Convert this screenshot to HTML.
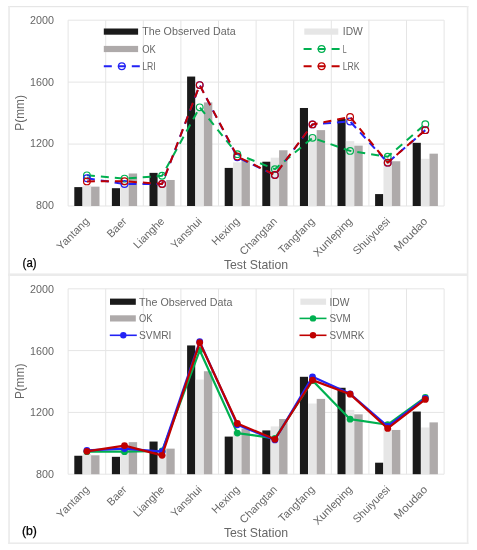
<!DOCTYPE html>
<html><head><meta charset="utf-8"><title>Figure</title>
<style>
html,body{margin:0;padding:0;background:#fff;}
svg{display:block;font-family:"Liberation Sans",sans-serif;}
</style></head><body>
<svg width="477" height="550" viewBox="0 0 477 550">
<rect x="0" y="0" width="477" height="550" fill="#ffffff"/>
<rect x="8.2" y="6" width="460.2" height="1.2" fill="#e6e6e6"/>
<rect x="8.2" y="6" width="1.7" height="538" fill="#ebebeb"/>
<rect x="466.8" y="6" width="1.6" height="538" fill="#ebebeb"/>
<rect x="8.2" y="542.4" width="460.2" height="1.6" fill="#ebebeb"/>
<rect x="8" y="273.4" width="460" height="2.6" fill="#ebebeb"/>
<line x1="68.1" y1="20.20" x2="444.1" y2="20.20" stroke="#e5e5e5" stroke-width="1"/>
<line x1="68.1" y1="82.13" x2="444.1" y2="82.13" stroke="#e5e5e5" stroke-width="1"/>
<line x1="68.1" y1="144.07" x2="444.1" y2="144.07" stroke="#e5e5e5" stroke-width="1"/>
<line x1="68.1" y1="206.00" x2="444.1" y2="206.00" stroke="#e5e5e5" stroke-width="1"/>
<line x1="68.10" y1="20.2" x2="68.10" y2="206.0" stroke="#e5e5e5" stroke-width="1"/>
<line x1="105.70" y1="20.2" x2="105.70" y2="206.0" stroke="#e5e5e5" stroke-width="1"/>
<line x1="143.30" y1="20.2" x2="143.30" y2="206.0" stroke="#e5e5e5" stroke-width="1"/>
<line x1="180.90" y1="20.2" x2="180.90" y2="206.0" stroke="#e5e5e5" stroke-width="1"/>
<line x1="218.50" y1="20.2" x2="218.50" y2="206.0" stroke="#e5e5e5" stroke-width="1"/>
<line x1="256.10" y1="20.2" x2="256.10" y2="206.0" stroke="#e5e5e5" stroke-width="1"/>
<line x1="293.70" y1="20.2" x2="293.70" y2="206.0" stroke="#e5e5e5" stroke-width="1"/>
<line x1="331.30" y1="20.2" x2="331.30" y2="206.0" stroke="#e5e5e5" stroke-width="1"/>
<line x1="368.90" y1="20.2" x2="368.90" y2="206.0" stroke="#e5e5e5" stroke-width="1"/>
<line x1="406.50" y1="20.2" x2="406.50" y2="206.0" stroke="#e5e5e5" stroke-width="1"/>
<line x1="444.10" y1="20.2" x2="444.10" y2="206.0" stroke="#e5e5e5" stroke-width="1"/>
<rect x="74.30" y="187.11" width="8.10" height="18.89" fill="#1a1a1a"/>
<rect x="82.70" y="185.41" width="8.40" height="20.59" fill="#e6e6e6"/>
<rect x="91.10" y="186.65" width="8.40" height="19.35" fill="#aeaaaa"/>
<rect x="111.90" y="188.19" width="8.10" height="17.81" fill="#1a1a1a"/>
<rect x="120.30" y="181.23" width="8.40" height="24.77" fill="#e6e6e6"/>
<rect x="128.70" y="173.49" width="8.40" height="32.51" fill="#aeaaaa"/>
<rect x="149.50" y="172.87" width="8.10" height="33.13" fill="#1a1a1a"/>
<rect x="157.90" y="185.87" width="8.40" height="20.13" fill="#e6e6e6"/>
<rect x="166.30" y="179.99" width="8.40" height="26.01" fill="#aeaaaa"/>
<rect x="187.10" y="76.56" width="8.10" height="129.44" fill="#1a1a1a"/>
<rect x="195.50" y="110.78" width="8.40" height="95.22" fill="#e6e6e6"/>
<rect x="203.90" y="102.42" width="8.40" height="103.58" fill="#aeaaaa"/>
<rect x="224.70" y="167.91" width="8.10" height="38.09" fill="#1a1a1a"/>
<rect x="233.10" y="162.34" width="8.40" height="43.66" fill="#e6e6e6"/>
<rect x="241.50" y="159.86" width="8.40" height="46.14" fill="#aeaaaa"/>
<rect x="262.30" y="161.72" width="8.10" height="44.28" fill="#1a1a1a"/>
<rect x="270.70" y="157.69" width="8.40" height="48.31" fill="#e6e6e6"/>
<rect x="279.10" y="150.26" width="8.40" height="55.74" fill="#aeaaaa"/>
<rect x="299.90" y="107.99" width="8.10" height="98.01" fill="#1a1a1a"/>
<rect x="308.30" y="134.78" width="8.40" height="71.22" fill="#e6e6e6"/>
<rect x="316.70" y="130.13" width="8.40" height="75.87" fill="#aeaaaa"/>
<rect x="337.50" y="118.98" width="8.10" height="87.02" fill="#1a1a1a"/>
<rect x="345.90" y="141.12" width="8.40" height="64.88" fill="#e6e6e6"/>
<rect x="354.30" y="145.62" width="8.40" height="60.38" fill="#aeaaaa"/>
<rect x="375.10" y="194.08" width="8.10" height="11.92" fill="#1a1a1a"/>
<rect x="383.50" y="159.55" width="8.40" height="46.45" fill="#e6e6e6"/>
<rect x="391.90" y="161.25" width="8.40" height="44.75" fill="#aeaaaa"/>
<rect x="412.70" y="142.83" width="8.10" height="63.17" fill="#1a1a1a"/>
<rect x="421.10" y="158.78" width="8.40" height="47.22" fill="#e6e6e6"/>
<rect x="429.50" y="153.67" width="8.40" height="52.33" fill="#aeaaaa"/>
<polyline points="86.90,175.34 124.50,178.59 162.10,175.81 199.70,107.37 237.30,154.13 274.90,169.15 312.50,137.87 350.10,150.88 387.70,156.76 425.30,124.25" fill="none" stroke="#00b050" stroke-width="2" stroke-linejoin="round" stroke-dasharray="8 6"/>
<circle cx="86.90" cy="175.34" r="3.35" fill="none" stroke="#00b050" stroke-width="1.2"/>
<circle cx="124.50" cy="178.59" r="3.35" fill="none" stroke="#00b050" stroke-width="1.2"/>
<circle cx="162.10" cy="175.81" r="3.35" fill="none" stroke="#00b050" stroke-width="1.2"/>
<circle cx="199.70" cy="107.37" r="3.35" fill="none" stroke="#00b050" stroke-width="1.2"/>
<circle cx="237.30" cy="154.13" r="3.35" fill="none" stroke="#00b050" stroke-width="1.2"/>
<circle cx="274.90" cy="169.15" r="3.35" fill="none" stroke="#00b050" stroke-width="1.2"/>
<circle cx="312.50" cy="137.87" r="3.35" fill="none" stroke="#00b050" stroke-width="1.2"/>
<circle cx="350.10" cy="150.88" r="3.35" fill="none" stroke="#00b050" stroke-width="1.2"/>
<circle cx="387.70" cy="156.76" r="3.35" fill="none" stroke="#00b050" stroke-width="1.2"/>
<circle cx="425.30" cy="124.25" r="3.35" fill="none" stroke="#00b050" stroke-width="1.2"/>
<polyline points="86.90,178.28 124.50,184.01 162.10,184.01 199.70,85.08 237.30,157.23 274.90,175.03 312.50,124.40 350.10,121.46 387.70,162.65 425.30,130.13" fill="none" stroke="#2222f5" stroke-width="2" stroke-linejoin="round" stroke-dasharray="8 6"/>
<circle cx="86.90" cy="178.28" r="3.35" fill="none" stroke="#2222f5" stroke-width="1.2"/>
<circle cx="124.50" cy="184.01" r="3.35" fill="none" stroke="#2222f5" stroke-width="1.2"/>
<circle cx="162.10" cy="184.01" r="3.35" fill="none" stroke="#2222f5" stroke-width="1.2"/>
<circle cx="199.70" cy="85.08" r="3.35" fill="none" stroke="#2222f5" stroke-width="1.2"/>
<circle cx="237.30" cy="157.23" r="3.35" fill="none" stroke="#2222f5" stroke-width="1.2"/>
<circle cx="274.90" cy="175.03" r="3.35" fill="none" stroke="#2222f5" stroke-width="1.2"/>
<circle cx="312.50" cy="124.40" r="3.35" fill="none" stroke="#2222f5" stroke-width="1.2"/>
<circle cx="350.10" cy="121.46" r="3.35" fill="none" stroke="#2222f5" stroke-width="1.2"/>
<circle cx="387.70" cy="162.65" r="3.35" fill="none" stroke="#2222f5" stroke-width="1.2"/>
<circle cx="425.30" cy="130.13" r="3.35" fill="none" stroke="#2222f5" stroke-width="1.2"/>
<polyline points="86.90,181.38 124.50,181.23 162.10,184.01 199.70,85.08 237.30,156.45 274.90,175.03 312.50,124.40 350.10,116.97 387.70,162.65 425.30,130.13" fill="none" stroke="#c00000" stroke-width="2" stroke-linejoin="round" stroke-dasharray="8 6"/>
<circle cx="86.90" cy="181.38" r="3.35" fill="none" stroke="#c00000" stroke-width="1.2"/>
<circle cx="124.50" cy="181.23" r="3.35" fill="none" stroke="#c00000" stroke-width="1.2"/>
<circle cx="162.10" cy="184.01" r="3.35" fill="none" stroke="#c00000" stroke-width="1.2"/>
<circle cx="199.70" cy="85.08" r="3.35" fill="none" stroke="#c00000" stroke-width="1.2"/>
<circle cx="237.30" cy="156.45" r="3.35" fill="none" stroke="#c00000" stroke-width="1.2"/>
<circle cx="274.90" cy="175.03" r="3.35" fill="none" stroke="#c00000" stroke-width="1.2"/>
<circle cx="312.50" cy="124.40" r="3.35" fill="none" stroke="#c00000" stroke-width="1.2"/>
<circle cx="350.10" cy="116.97" r="3.35" fill="none" stroke="#c00000" stroke-width="1.2"/>
<circle cx="387.70" cy="162.65" r="3.35" fill="none" stroke="#c00000" stroke-width="1.2"/>
<circle cx="425.30" cy="130.13" r="3.35" fill="none" stroke="#c00000" stroke-width="1.2"/>
<text x="53.9" y="23.60" text-anchor="end" font-size="10.6" fill="#676767" textLength="23.9" lengthAdjust="spacingAndGlyphs">2000</text>
<text x="53.9" y="85.53" text-anchor="end" font-size="10.6" fill="#676767" textLength="23.9" lengthAdjust="spacingAndGlyphs">1600</text>
<text x="53.9" y="147.47" text-anchor="end" font-size="10.6" fill="#676767" textLength="23.9" lengthAdjust="spacingAndGlyphs">1200</text>
<text x="53.9" y="209.40" text-anchor="end" font-size="10.6" fill="#676767" textLength="17.9" lengthAdjust="spacingAndGlyphs">800</text>
<text transform="translate(89.80,222.00) rotate(-45)" text-anchor="end" font-size="10.9" fill="#676767" textLength="40.6" lengthAdjust="spacingAndGlyphs">Yantang</text>
<text transform="translate(127.40,222.00) rotate(-45)" text-anchor="end" font-size="10.9" fill="#676767" textLength="23.0" lengthAdjust="spacingAndGlyphs">Baer</text>
<text transform="translate(165.00,222.00) rotate(-45)" text-anchor="end" font-size="10.9" fill="#676767" textLength="38.7" lengthAdjust="spacingAndGlyphs">Lianghe</text>
<text transform="translate(202.60,222.00) rotate(-45)" text-anchor="end" font-size="10.9" fill="#676767" textLength="38.8" lengthAdjust="spacingAndGlyphs">Yanshui</text>
<text transform="translate(240.20,222.00) rotate(-45)" text-anchor="end" font-size="10.9" fill="#676767" textLength="34.1" lengthAdjust="spacingAndGlyphs">Hexing</text>
<text transform="translate(277.80,222.00) rotate(-45)" text-anchor="end" font-size="10.9" fill="#676767" textLength="47.7" lengthAdjust="spacingAndGlyphs">Changtan</text>
<text transform="translate(315.40,222.00) rotate(-45)" text-anchor="end" font-size="10.9" fill="#676767" textLength="46.0" lengthAdjust="spacingAndGlyphs">Tangfang</text>
<text transform="translate(353.00,222.00) rotate(-45)" text-anchor="end" font-size="10.9" fill="#676767" textLength="49.8" lengthAdjust="spacingAndGlyphs">Xunleping</text>
<text transform="translate(390.60,222.00) rotate(-45)" text-anchor="end" font-size="10.9" fill="#676767" textLength="47.1" lengthAdjust="spacingAndGlyphs">Shuiyuesi</text>
<text transform="translate(428.20,222.00) rotate(-45)" text-anchor="end" font-size="10.9" fill="#676767" textLength="42.3" lengthAdjust="spacingAndGlyphs">Moudao</text>
<text x="223.9" y="269.10" font-size="11.9" fill="#676767" textLength="64.2" lengthAdjust="spacingAndGlyphs">Test Station</text>
<text transform="translate(23.7,130.70) rotate(-90)" font-size="11.9" fill="#676767" textLength="35.6" lengthAdjust="spacingAndGlyphs">P(mm)</text>
<text x="22.6" y="266.5" font-size="12" fill="#000" stroke="#000" stroke-width="0.25" textLength="13.9" lengthAdjust="spacingAndGlyphs">(a)</text>
<rect x="103.8" y="28.5" width="34.3" height="6.2" fill="#1a1a1a"/>
<text x="142.2" y="35.4" font-size="10.6" fill="#676767" textLength="93.4" lengthAdjust="spacingAndGlyphs">The Observed Data</text>
<rect x="103.8" y="45.9" width="34.3" height="6.2" fill="#aeaaaa"/>
<text x="142.2" y="52.8" font-size="10.6" fill="#676767" textLength="13.5" lengthAdjust="spacingAndGlyphs">OK</text>
<rect x="304.3" y="28.5" width="34" height="6.2" fill="#e6e6e6"/>
<text x="342.8" y="35.4" font-size="10.6" fill="#676767" textLength="20" lengthAdjust="spacingAndGlyphs">IDW</text>
<line x1="103.8" y1="66.3" x2="139.8" y2="66.3" stroke="#2222f5" stroke-width="2" stroke-dasharray="8 6"/>
<circle cx="121.8" cy="66.3" r="3.35" fill="none" stroke="#2222f5" stroke-width="1.2"/>
<text x="142.2" y="70.1" font-size="10.6" fill="#676767" textLength="13.5" lengthAdjust="spacingAndGlyphs">LRI</text>
<line x1="303.6" y1="49.0" x2="339.6" y2="49.0" stroke="#00b050" stroke-width="2" stroke-dasharray="8 6"/>
<circle cx="321.6" cy="49.0" r="3.35" fill="none" stroke="#00b050" stroke-width="1.2"/>
<text x="342.8" y="52.8" font-size="10.6" fill="#676767" textLength="3.9" lengthAdjust="spacingAndGlyphs">L</text>
<line x1="303.6" y1="66.3" x2="339.6" y2="66.3" stroke="#c00000" stroke-width="2" stroke-dasharray="8 6"/>
<circle cx="321.6" cy="66.3" r="3.35" fill="none" stroke="#c00000" stroke-width="1.2"/>
<text x="342.8" y="70.1" font-size="10.6" fill="#676767" textLength="16.8" lengthAdjust="spacingAndGlyphs">LRK</text>
<line x1="68.1" y1="288.80" x2="444.1" y2="288.80" stroke="#e5e5e5" stroke-width="1"/>
<line x1="68.1" y1="350.60" x2="444.1" y2="350.60" stroke="#e5e5e5" stroke-width="1"/>
<line x1="68.1" y1="412.40" x2="444.1" y2="412.40" stroke="#e5e5e5" stroke-width="1"/>
<line x1="68.1" y1="474.20" x2="444.1" y2="474.20" stroke="#e5e5e5" stroke-width="1"/>
<line x1="68.10" y1="288.8" x2="68.10" y2="474.2" stroke="#e5e5e5" stroke-width="1"/>
<line x1="105.70" y1="288.8" x2="105.70" y2="474.2" stroke="#e5e5e5" stroke-width="1"/>
<line x1="143.30" y1="288.8" x2="143.30" y2="474.2" stroke="#e5e5e5" stroke-width="1"/>
<line x1="180.90" y1="288.8" x2="180.90" y2="474.2" stroke="#e5e5e5" stroke-width="1"/>
<line x1="218.50" y1="288.8" x2="218.50" y2="474.2" stroke="#e5e5e5" stroke-width="1"/>
<line x1="256.10" y1="288.8" x2="256.10" y2="474.2" stroke="#e5e5e5" stroke-width="1"/>
<line x1="293.70" y1="288.8" x2="293.70" y2="474.2" stroke="#e5e5e5" stroke-width="1"/>
<line x1="331.30" y1="288.8" x2="331.30" y2="474.2" stroke="#e5e5e5" stroke-width="1"/>
<line x1="368.90" y1="288.8" x2="368.90" y2="474.2" stroke="#e5e5e5" stroke-width="1"/>
<line x1="406.50" y1="288.8" x2="406.50" y2="474.2" stroke="#e5e5e5" stroke-width="1"/>
<line x1="444.10" y1="288.8" x2="444.10" y2="474.2" stroke="#e5e5e5" stroke-width="1"/>
<rect x="74.30" y="455.75" width="8.10" height="18.45" fill="#1a1a1a"/>
<rect x="82.70" y="454.05" width="8.40" height="20.15" fill="#e6e6e6"/>
<rect x="91.10" y="455.29" width="8.40" height="18.91" fill="#aeaaaa"/>
<rect x="111.90" y="456.83" width="8.10" height="17.37" fill="#1a1a1a"/>
<rect x="120.30" y="449.88" width="8.40" height="24.32" fill="#e6e6e6"/>
<rect x="128.70" y="442.15" width="8.40" height="32.05" fill="#aeaaaa"/>
<rect x="149.50" y="441.54" width="8.10" height="32.66" fill="#1a1a1a"/>
<rect x="157.90" y="454.51" width="8.40" height="19.69" fill="#e6e6e6"/>
<rect x="166.30" y="448.64" width="8.40" height="25.56" fill="#aeaaaa"/>
<rect x="187.10" y="345.44" width="8.10" height="128.76" fill="#1a1a1a"/>
<rect x="195.50" y="379.58" width="8.40" height="94.62" fill="#e6e6e6"/>
<rect x="203.90" y="371.24" width="8.40" height="102.96" fill="#aeaaaa"/>
<rect x="224.70" y="436.59" width="8.10" height="37.61" fill="#1a1a1a"/>
<rect x="233.10" y="431.03" width="8.40" height="43.17" fill="#e6e6e6"/>
<rect x="241.50" y="428.56" width="8.40" height="45.64" fill="#aeaaaa"/>
<rect x="262.30" y="430.41" width="8.10" height="43.79" fill="#1a1a1a"/>
<rect x="270.70" y="426.40" width="8.40" height="47.80" fill="#e6e6e6"/>
<rect x="279.10" y="418.98" width="8.40" height="55.22" fill="#aeaaaa"/>
<rect x="299.90" y="376.80" width="8.10" height="97.40" fill="#1a1a1a"/>
<rect x="308.30" y="403.53" width="8.40" height="70.67" fill="#e6e6e6"/>
<rect x="316.70" y="398.89" width="8.40" height="75.31" fill="#aeaaaa"/>
<rect x="337.50" y="387.77" width="8.10" height="86.43" fill="#1a1a1a"/>
<rect x="345.90" y="409.86" width="8.40" height="64.34" fill="#e6e6e6"/>
<rect x="354.30" y="414.34" width="8.40" height="59.86" fill="#aeaaaa"/>
<rect x="375.10" y="462.70" width="8.10" height="11.50" fill="#1a1a1a"/>
<rect x="383.50" y="428.25" width="8.40" height="45.95" fill="#e6e6e6"/>
<rect x="391.90" y="429.95" width="8.40" height="44.25" fill="#aeaaaa"/>
<rect x="412.70" y="411.56" width="8.10" height="62.64" fill="#1a1a1a"/>
<rect x="421.10" y="427.48" width="8.40" height="46.72" fill="#e6e6e6"/>
<rect x="429.50" y="422.38" width="8.40" height="51.82" fill="#aeaaaa"/>
<polyline points="86.90,451.64 124.50,451.64 162.10,451.02 199.70,350.29 237.30,433.10 274.90,438.36 312.50,380.57 350.10,419.20 387.70,424.76 425.30,397.41" fill="none" stroke="#00b050" stroke-width="2.2" stroke-linejoin="round"/>
<circle cx="86.90" cy="451.64" r="3.4" fill="#00b050"/>
<circle cx="124.50" cy="451.64" r="3.4" fill="#00b050"/>
<circle cx="162.10" cy="451.02" r="3.4" fill="#00b050"/>
<circle cx="199.70" cy="350.29" r="3.4" fill="#00b050"/>
<circle cx="237.30" cy="433.10" r="3.4" fill="#00b050"/>
<circle cx="274.90" cy="438.36" r="3.4" fill="#00b050"/>
<circle cx="312.50" cy="380.57" r="3.4" fill="#00b050"/>
<circle cx="350.10" cy="419.20" r="3.4" fill="#00b050"/>
<circle cx="387.70" cy="424.76" r="3.4" fill="#00b050"/>
<circle cx="425.30" cy="397.41" r="3.4" fill="#00b050"/>
<polyline points="86.90,450.41 124.50,448.55 162.10,451.64 199.70,341.64 237.30,424.76 274.90,439.90 312.50,376.87 350.10,393.86 387.70,426.31 425.30,398.50" fill="none" stroke="#2222f5" stroke-width="2.2" stroke-linejoin="round"/>
<circle cx="86.90" cy="450.41" r="3.4" fill="#2222f5"/>
<circle cx="124.50" cy="448.55" r="3.4" fill="#2222f5"/>
<circle cx="162.10" cy="451.64" r="3.4" fill="#2222f5"/>
<circle cx="199.70" cy="341.64" r="3.4" fill="#2222f5"/>
<circle cx="237.30" cy="424.76" r="3.4" fill="#2222f5"/>
<circle cx="274.90" cy="439.90" r="3.4" fill="#2222f5"/>
<circle cx="312.50" cy="376.87" r="3.4" fill="#2222f5"/>
<circle cx="350.10" cy="393.86" r="3.4" fill="#2222f5"/>
<circle cx="387.70" cy="426.31" r="3.4" fill="#2222f5"/>
<circle cx="425.30" cy="398.50" r="3.4" fill="#2222f5"/>
<polyline points="86.90,451.33 124.50,445.62 162.10,455.35 199.70,342.57 237.30,423.52 274.90,439.28 312.50,380.11 350.10,394.17 387.70,428.47 425.30,399.42" fill="none" stroke="#c00000" stroke-width="2.2" stroke-linejoin="round"/>
<circle cx="86.90" cy="451.33" r="3.4" fill="#c00000"/>
<circle cx="124.50" cy="445.62" r="3.4" fill="#c00000"/>
<circle cx="162.10" cy="455.35" r="3.4" fill="#c00000"/>
<circle cx="199.70" cy="342.57" r="3.4" fill="#c00000"/>
<circle cx="237.30" cy="423.52" r="3.4" fill="#c00000"/>
<circle cx="274.90" cy="439.28" r="3.4" fill="#c00000"/>
<circle cx="312.50" cy="380.11" r="3.4" fill="#c00000"/>
<circle cx="350.10" cy="394.17" r="3.4" fill="#c00000"/>
<circle cx="387.70" cy="428.47" r="3.4" fill="#c00000"/>
<circle cx="425.30" cy="399.42" r="3.4" fill="#c00000"/>
<text x="53.9" y="292.80" text-anchor="end" font-size="10.6" fill="#676767" textLength="23.9" lengthAdjust="spacingAndGlyphs">2000</text>
<text x="53.9" y="354.60" text-anchor="end" font-size="10.6" fill="#676767" textLength="23.9" lengthAdjust="spacingAndGlyphs">1600</text>
<text x="53.9" y="416.40" text-anchor="end" font-size="10.6" fill="#676767" textLength="23.9" lengthAdjust="spacingAndGlyphs">1200</text>
<text x="53.9" y="478.20" text-anchor="end" font-size="10.6" fill="#676767" textLength="17.9" lengthAdjust="spacingAndGlyphs">800</text>
<text transform="translate(89.80,490.20) rotate(-45)" text-anchor="end" font-size="10.9" fill="#676767" textLength="40.6" lengthAdjust="spacingAndGlyphs">Yantang</text>
<text transform="translate(127.40,490.20) rotate(-45)" text-anchor="end" font-size="10.9" fill="#676767" textLength="23.0" lengthAdjust="spacingAndGlyphs">Baer</text>
<text transform="translate(165.00,490.20) rotate(-45)" text-anchor="end" font-size="10.9" fill="#676767" textLength="38.7" lengthAdjust="spacingAndGlyphs">Lianghe</text>
<text transform="translate(202.60,490.20) rotate(-45)" text-anchor="end" font-size="10.9" fill="#676767" textLength="38.8" lengthAdjust="spacingAndGlyphs">Yanshui</text>
<text transform="translate(240.20,490.20) rotate(-45)" text-anchor="end" font-size="10.9" fill="#676767" textLength="34.1" lengthAdjust="spacingAndGlyphs">Hexing</text>
<text transform="translate(277.80,490.20) rotate(-45)" text-anchor="end" font-size="10.9" fill="#676767" textLength="47.7" lengthAdjust="spacingAndGlyphs">Changtan</text>
<text transform="translate(315.40,490.20) rotate(-45)" text-anchor="end" font-size="10.9" fill="#676767" textLength="46.0" lengthAdjust="spacingAndGlyphs">Tangfang</text>
<text transform="translate(353.00,490.20) rotate(-45)" text-anchor="end" font-size="10.9" fill="#676767" textLength="49.8" lengthAdjust="spacingAndGlyphs">Xunleping</text>
<text transform="translate(390.60,490.20) rotate(-45)" text-anchor="end" font-size="10.9" fill="#676767" textLength="47.1" lengthAdjust="spacingAndGlyphs">Shuiyuesi</text>
<text transform="translate(428.20,490.20) rotate(-45)" text-anchor="end" font-size="10.9" fill="#676767" textLength="42.3" lengthAdjust="spacingAndGlyphs">Moudao</text>
<text x="223.9" y="537.30" font-size="11.9" fill="#676767" textLength="64.2" lengthAdjust="spacingAndGlyphs">Test Station</text>
<text transform="translate(23.7,399.10) rotate(-90)" font-size="11.9" fill="#676767" textLength="35.6" lengthAdjust="spacingAndGlyphs">P(mm)</text>
<text x="21.9" y="534.9" font-size="12" fill="#000" stroke="#000" stroke-width="0.25" textLength="15.0" lengthAdjust="spacingAndGlyphs">(b)</text>
<rect x="110" y="298.59999999999997" width="25.8" height="6.2" fill="#1a1a1a"/>
<text x="139" y="305.5" font-size="10.6" fill="#676767" textLength="93.4" lengthAdjust="spacingAndGlyphs">The Observed Data</text>
<rect x="110" y="315.29999999999995" width="25.8" height="6.2" fill="#aeaaaa"/>
<text x="139" y="322.2" font-size="10.6" fill="#676767" textLength="13.5" lengthAdjust="spacingAndGlyphs">OK</text>
<rect x="300.4" y="298.59999999999997" width="25.7" height="6.2" fill="#e6e6e6"/>
<text x="329.4" y="305.5" font-size="10.6" fill="#676767" textLength="20" lengthAdjust="spacingAndGlyphs">IDW</text>
<line x1="109.8" y1="335.3" x2="136.8" y2="335.3" stroke="#2222f5" stroke-width="1.6"/>
<circle cx="123.3" cy="335.3" r="3.2" fill="#2222f5"/>
<text x="139" y="339.1" font-size="10.6" fill="#676767" textLength="32.4" lengthAdjust="spacingAndGlyphs">SVMRI</text>
<line x1="299.5" y1="318.4" x2="326.5" y2="318.4" stroke="#00b050" stroke-width="1.6"/>
<circle cx="313.0" cy="318.4" r="3.2" fill="#00b050"/>
<text x="329.4" y="322.2" font-size="10.6" fill="#676767" textLength="21.4" lengthAdjust="spacingAndGlyphs">SVM</text>
<line x1="299.5" y1="335.3" x2="326.5" y2="335.3" stroke="#c00000" stroke-width="1.6"/>
<circle cx="313.0" cy="335.3" r="3.2" fill="#c00000"/>
<text x="329.4" y="339.1" font-size="10.6" fill="#676767" textLength="35" lengthAdjust="spacingAndGlyphs">SVMRK</text>
</svg>
</body></html>
